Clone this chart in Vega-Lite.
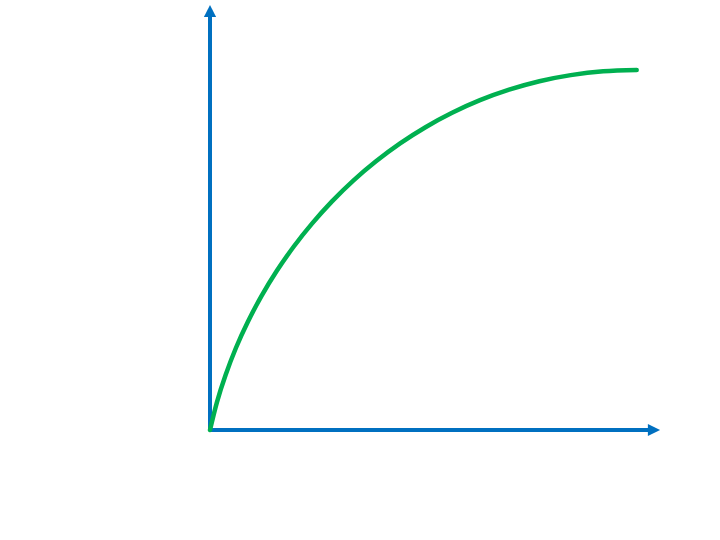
{
  "$schema": "https://vega.github.io/schema/vega-lite/v6.json",
  "width": 720,
  "height": 540,
  "padding": 0,
  "autosize": {"type": "fit", "contains": "padding"},
  "background": "white",
  "config": {"view": {"stroke": null}},
  "datasets": {
    "axes": [
      {"x": 0, "y": 0, "x2": 440, "y2": 0},
      {"x": 0, "y": 0, "x2": 0, "y2": 414}
    ],
    "heads": [
      {"x": 0, "y": 419, "dir": "up"},
      {"x": 444, "y": 0, "dir": "right"}
    ],
    "curve": [
      {"x": 0, "y": 0},
      {"x": 6.9, "y": 27.7},
      {"x": 15.6, "y": 55},
      {"x": 25.9, "y": 82},
      {"x": 38, "y": 108.5},
      {"x": 51.7, "y": 134.3},
      {"x": 67, "y": 159.4},
      {"x": 83.8, "y": 183.5},
      {"x": 102.2, "y": 206.6},
      {"x": 122, "y": 228.6},
      {"x": 143.3, "y": 249.4},
      {"x": 166, "y": 268.7},
      {"x": 190.1, "y": 286.6},
      {"x": 215.5, "y": 302.8},
      {"x": 242.1, "y": 317.2},
      {"x": 270, "y": 329.8},
      {"x": 299.1, "y": 340.3},
      {"x": 329.4, "y": 348.8},
      {"x": 360.7, "y": 354.9},
      {"x": 393.2, "y": 358.7},
      {"x": 426.7, "y": 360}
    ]
  },
  "layer": [
    {
      "data": {"name": "axes"},
      "mark": {"type": "rule", "color": "#0070C0", "strokeWidth": 4},
      "encoding": {
        "x": {"field": "x", "type": "quantitative", "scale": {"domain": [-210, 510], "nice": false, "zero": false}, "axis": null},
        "y": {"field": "y", "type": "quantitative", "scale": {"domain": [-110, 430], "nice": false, "zero": false}, "axis": null},
        "x2": {"field": "x2"},
        "y2": {"field": "y2"}
      }
    },
    {
      "data": {"name": "heads"},
      "mark": {"type": "point", "filled": true, "color": "#0070C0", "opacity": 1, "size": 150, "strokeWidth": 0},
      "encoding": {
        "x": {"field": "x", "type": "quantitative", "scale": {"domain": [-210, 510], "nice": false, "zero": false}, "axis": null},
        "y": {"field": "y", "type": "quantitative", "scale": {"domain": [-110, 430], "nice": false, "zero": false}, "axis": null},
        "shape": {"field": "dir", "type": "nominal", "scale": {"domain": ["up", "right"], "range": ["M0,-1L-1,1L1,1Z", "M1,0L-1,-1L-1,1Z"]}, "legend": null}
      }
    },
    {
      "data": {"name": "curve"},
      "mark": {"type": "line", "color": "#00B050", "strokeWidth": 4.5, "strokeCap": "round", "interpolate": "natural"},
      "encoding": {
        "x": {"field": "x", "type": "quantitative", "scale": {"domain": [-210, 510], "nice": false, "zero": false}, "axis": null},
        "y": {"field": "y", "type": "quantitative", "scale": {"domain": [-110, 430], "nice": false, "zero": false}, "axis": null}
      }
    }
  ]
}
